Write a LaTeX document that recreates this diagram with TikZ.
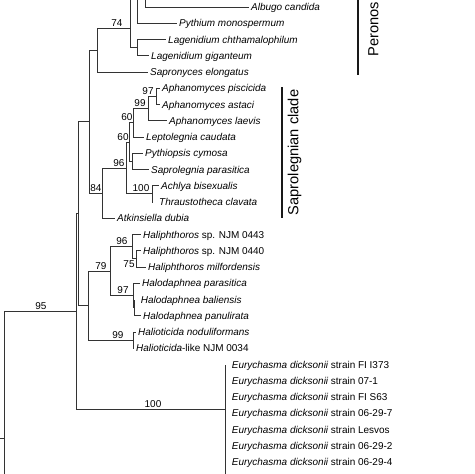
\documentclass[tikz,border=0pt]{standalone}
\usepackage{fontspec}
\setmainfont{Liberation Sans}
\usepackage{tikz}
\usetikzlibrary{positioning}
\tikzstyle{branch} = [draw=black!80, line width=0.7pt]
\tikzstyle{taxon} = [anchor=west, inner xsep=0.06cm, inner ysep=0pt, text height=6pt, text depth=0pt, font=\fontsize{8.5}{10}\selectfont\itshape]
\tikzstyle{strain} = [taxon, inner xsep=0.2cm]
\tikzstyle{support} = [anchor=base, inner sep=0pt, font=\fontsize{8.5}{10}\selectfont]
\tikzstyle{cladebar} = [draw=black!90, line width=2.3pt]
\tikzstyle{cladename} = [rotate=90, inner sep=0pt, text height=9pt, text depth=0pt, font=\fontsize{12.5}{14}\selectfont]

\begin{document}
\begin{tikzpicture}[x=0.03cm, y=-0.03cm]
    \useasboundingbox (0,0) rectangle (474,474);
    \clip (0,0) rectangle (474,474);

    % taxa
    \node (lf0) [taxon] at (249,7) {Albugo candida};
    \node (lf1) [taxon] at (177,23.25) {Pythium monospermum};
    \node (lf2) [taxon] at (166,39.5) {Lagenidium chthamalophilum};
    \node (lf3) [taxon] at (149,55.75) {Lagenidium giganteum};
    \node (lf4) [taxon] at (148,72) {Sapronyces elongatus};
    \node (lf5) [taxon] at (160,88.25) {Aphanomyces piscicida};
    \node (lf6) [taxon] at (160,104.5) {Aphanomyces astaci};
    \node (lf7) [taxon] at (167,120.75) {Aphanomyces laevis};
    \node (lf8) [taxon] at (144,137) {Leptolegnia caudata};
    \node (lf9) [taxon] at (143,153.25) {Pythiopsis cymosa};
    \node (lf10) [taxon] at (149,169.5) {Saprolegnia parasitica};
    \node (lf11) [taxon] at (159,185.75) {Achlya bisexualis};
    \node (lf12) [taxon, inner xsep=0.18cm] at (153,202) {Thraustotheca clavata};
    \node (lf13) [taxon] at (115,218.25) {Atkinsiella dubia};
    \node (lf14) [taxon] at (141,234.5) {Haliphthoros \upshape sp. NJM 0443};
    \node (lf15) [taxon] at (141,250.75) {Haliphthoros \upshape sp. NJM 0440};
    \node (lf16) [taxon] at (146,267) {Haliphthoros milfordensis};
    \node (lf17) [taxon] at (140,283.25) {Halodaphnea parasitica};
    \node (lf18) [taxon, inner xsep=0.2cm] at (134,299.5) {Halodaphnea baliensis};
    \node (lf19) [taxon] at (141,315.75) {Halodaphnea panulirata};
    \node (lf20) [taxon] at (136,332) {Halioticida noduliformans};
    \node (lf21) [taxon] at (134,348.25) {Halioticida\upshape -like NJM 0034};
    \node (eu0) [strain] at (225,364.5) {Eurychasma dicksonii \upshape strain FI I373};
    \node (eu1) [strain] at (225,380.75) {Eurychasma dicksonii \upshape strain 07-1};
    \node (eu2) [strain] at (225,397) {Eurychasma dicksonii \upshape strain FI S63};
    \node (eu3) [strain] at (225,413.25) {Eurychasma dicksonii \upshape strain 06-29-7};
    \node (eu4) [strain] at (225,429.5) {Eurychasma dicksonii \upshape strain Lesvos};
    \node (eu5) [strain] at (225,445.75) {Eurychasma dicksonii \upshape strain 06-29-2};
    \node (eu6) [strain] at (225,462) {Eurychasma dicksonii \upshape strain 06-29-4};

    % internal nodes
    \coordinate (pa) at (145,-3);
    \coordinate (pb) at (137,-3);
    \coordinate (pc) at (130,28);
    \coordinate (lag) at (137,47.6);
    \coordinate (n74) at (97,50);
    \coordinate (n97a) at (156,96.4);
    \coordinate (n99a) at (148,108.6);
    \coordinate (n60a) at (133,122.8);
    \coordinate (nps) at (132,161.4);
    \coordinate (n60b) at (129,142.1);
    \coordinate (n100a) at (152,193.9);
    \coordinate (n96a) at (126,168);
    \coordinate (n84) at (102,193.1);
    \coordinate (nup) at (89,121.6);
    \coordinate (n75) at (136,258.9);
    \coordinate (n96b) at (132,246.7);
    \coordinate (nbp) at (134,307.6);
    \coordinate (n97b) at (133,295.4);
    \coordinate (n79) at (110,271);
    \coordinate (n99b) at (133,340.1);
    \coordinate (nhal) at (88,305.6);
    \coordinate (n78) at (78,213.6);
    \coordinate (neur) at (225,409);
    \coordinate (eurend) at (225,478);
    \coordinate (n95) at (76,311.3);
    \coordinate (root) at (4.5,438);
    \coordinate (rootend) at (4.5,478);
    \coordinate (rootin) at (-4,438);

    % branches
    \draw[branch] (pa) |- (lf0.west);
    \draw[branch] (pb) |- (pa);
    \draw[branch] (pb) |- (lf1.west);
    \draw[branch] (pc) |- (pb);
    \draw[branch] (pc) |- (lag);
    \draw[branch] (lag) |- (lf2.west);
    \draw[branch] (lag) |- (lf3.west);
    \draw[branch] (n74) |- (pc);
    \draw[branch] (n74) |- (lf4.west);
    \draw[branch] (n97a) |- (lf5.west);
    \draw[branch] (n97a) |- (lf6.west);
    \draw[branch] (n99a) |- (n97a);
    \draw[branch] (n99a) |- (lf7.west);
    \draw[branch] (n60a) |- (n99a);
    \draw[branch] (n60a) |- (lf8.west);
    \draw[branch] (nps) |- (lf9.west);
    \draw[branch] (nps) |- (lf10.west);
    \draw[branch] (n60b) |- (n60a);
    \draw[branch] (n60b) |- (nps);
    \draw[branch] (n100a) |- (lf11.west);
    \draw[branch] (n100a) |- (lf12.west);
    \draw[branch] (n96a) |- (n60b);
    \draw[branch] (n96a) |- (n100a);
    \draw[branch] (n84) |- (n96a);
    \draw[branch] (n84) |- (lf13.west);
    \draw[branch] (nup) |- (n74);
    \draw[branch] (nup) |- (n84);
    \draw[branch] (n75) |- (lf15.west);
    \draw[branch] (n75) |- (lf16.west);
    \draw[branch] (n96b) |- (lf14.west);
    \draw[branch] (n96b) |- (n75);
    \draw[branch] (nbp) |- (lf18.west);
    \draw[branch] (nbp) |- (lf19.west);
    \draw[branch] (n97b) |- (lf17.west);
    \draw[branch] (n97b) |- (nbp);
    \draw[branch] (n79) |- (n96b);
    \draw[branch] (n79) |- (n97b);
    \draw[branch] (n99b) |- (lf20.west);
    \draw[branch] (n99b) |- (lf21.west);
    \draw[branch] (nhal) |- (n79);
    \draw[branch] (nhal) |- (n99b);
    \draw[branch] (n78) |- (nup);
    \draw[branch] (n78) |- (nhal);
    \draw[branch] (neur) |- (eu0.west);
    \draw[branch] (neur) -- (eurend);
    \draw[branch] (n95) |- (n78);
    \draw[branch] (n95) |- (neur);
    \draw[branch] (root) |- (n95);
    \draw[branch] (root) -- (rootend);
    \draw[branch] (rootin) -- (root);

    % support values
    \node (s74) [support] at (117,26) {74};
    \node (s97a) [support] at (148,94.4) {97};
    \node (s99a) [support] at (140,106.6) {99};
    \node (s60a) [support] at (127,120.8) {60};
    \node (s60b) [support] at (123,140.1) {60};
    \node (s96a) [support] at (119,166) {96};
    \node (s84) [support] at (96,191.1) {84};
    \node (s100a) [support] at (141,191.9) {100};
    \node (s96b) [support] at (122,244.7) {96};
    \node (s75) [support] at (129,267.5) {75};
    \node (s79) [support] at (101,269) {79};
    \node (s97b) [support] at (123,293.4) {97};
    \node (s99b) [support] at (118,338.1) {99};
    \node (s95) [support] at (41,309.3) {95};
    \node (s100b) [support] at (153,407) {100};

    % clades
    \coordinate (pertop) at (358,-3);
    \coordinate (perbot) at (358,75);
    \draw[cladebar] (pertop) -- (perbot);
    \node (pername) [cladename, anchor=west] at (373,57) {Peronos};
    \coordinate (saptop) at (282,87);
    \coordinate (sapbot) at (282,218);
    \draw[cladebar] (saptop) -- (sapbot);
    \node (sapname) [cladename] at (293,152.5) {Saprolegnian clade};
\end{tikzpicture}
\end{document}
